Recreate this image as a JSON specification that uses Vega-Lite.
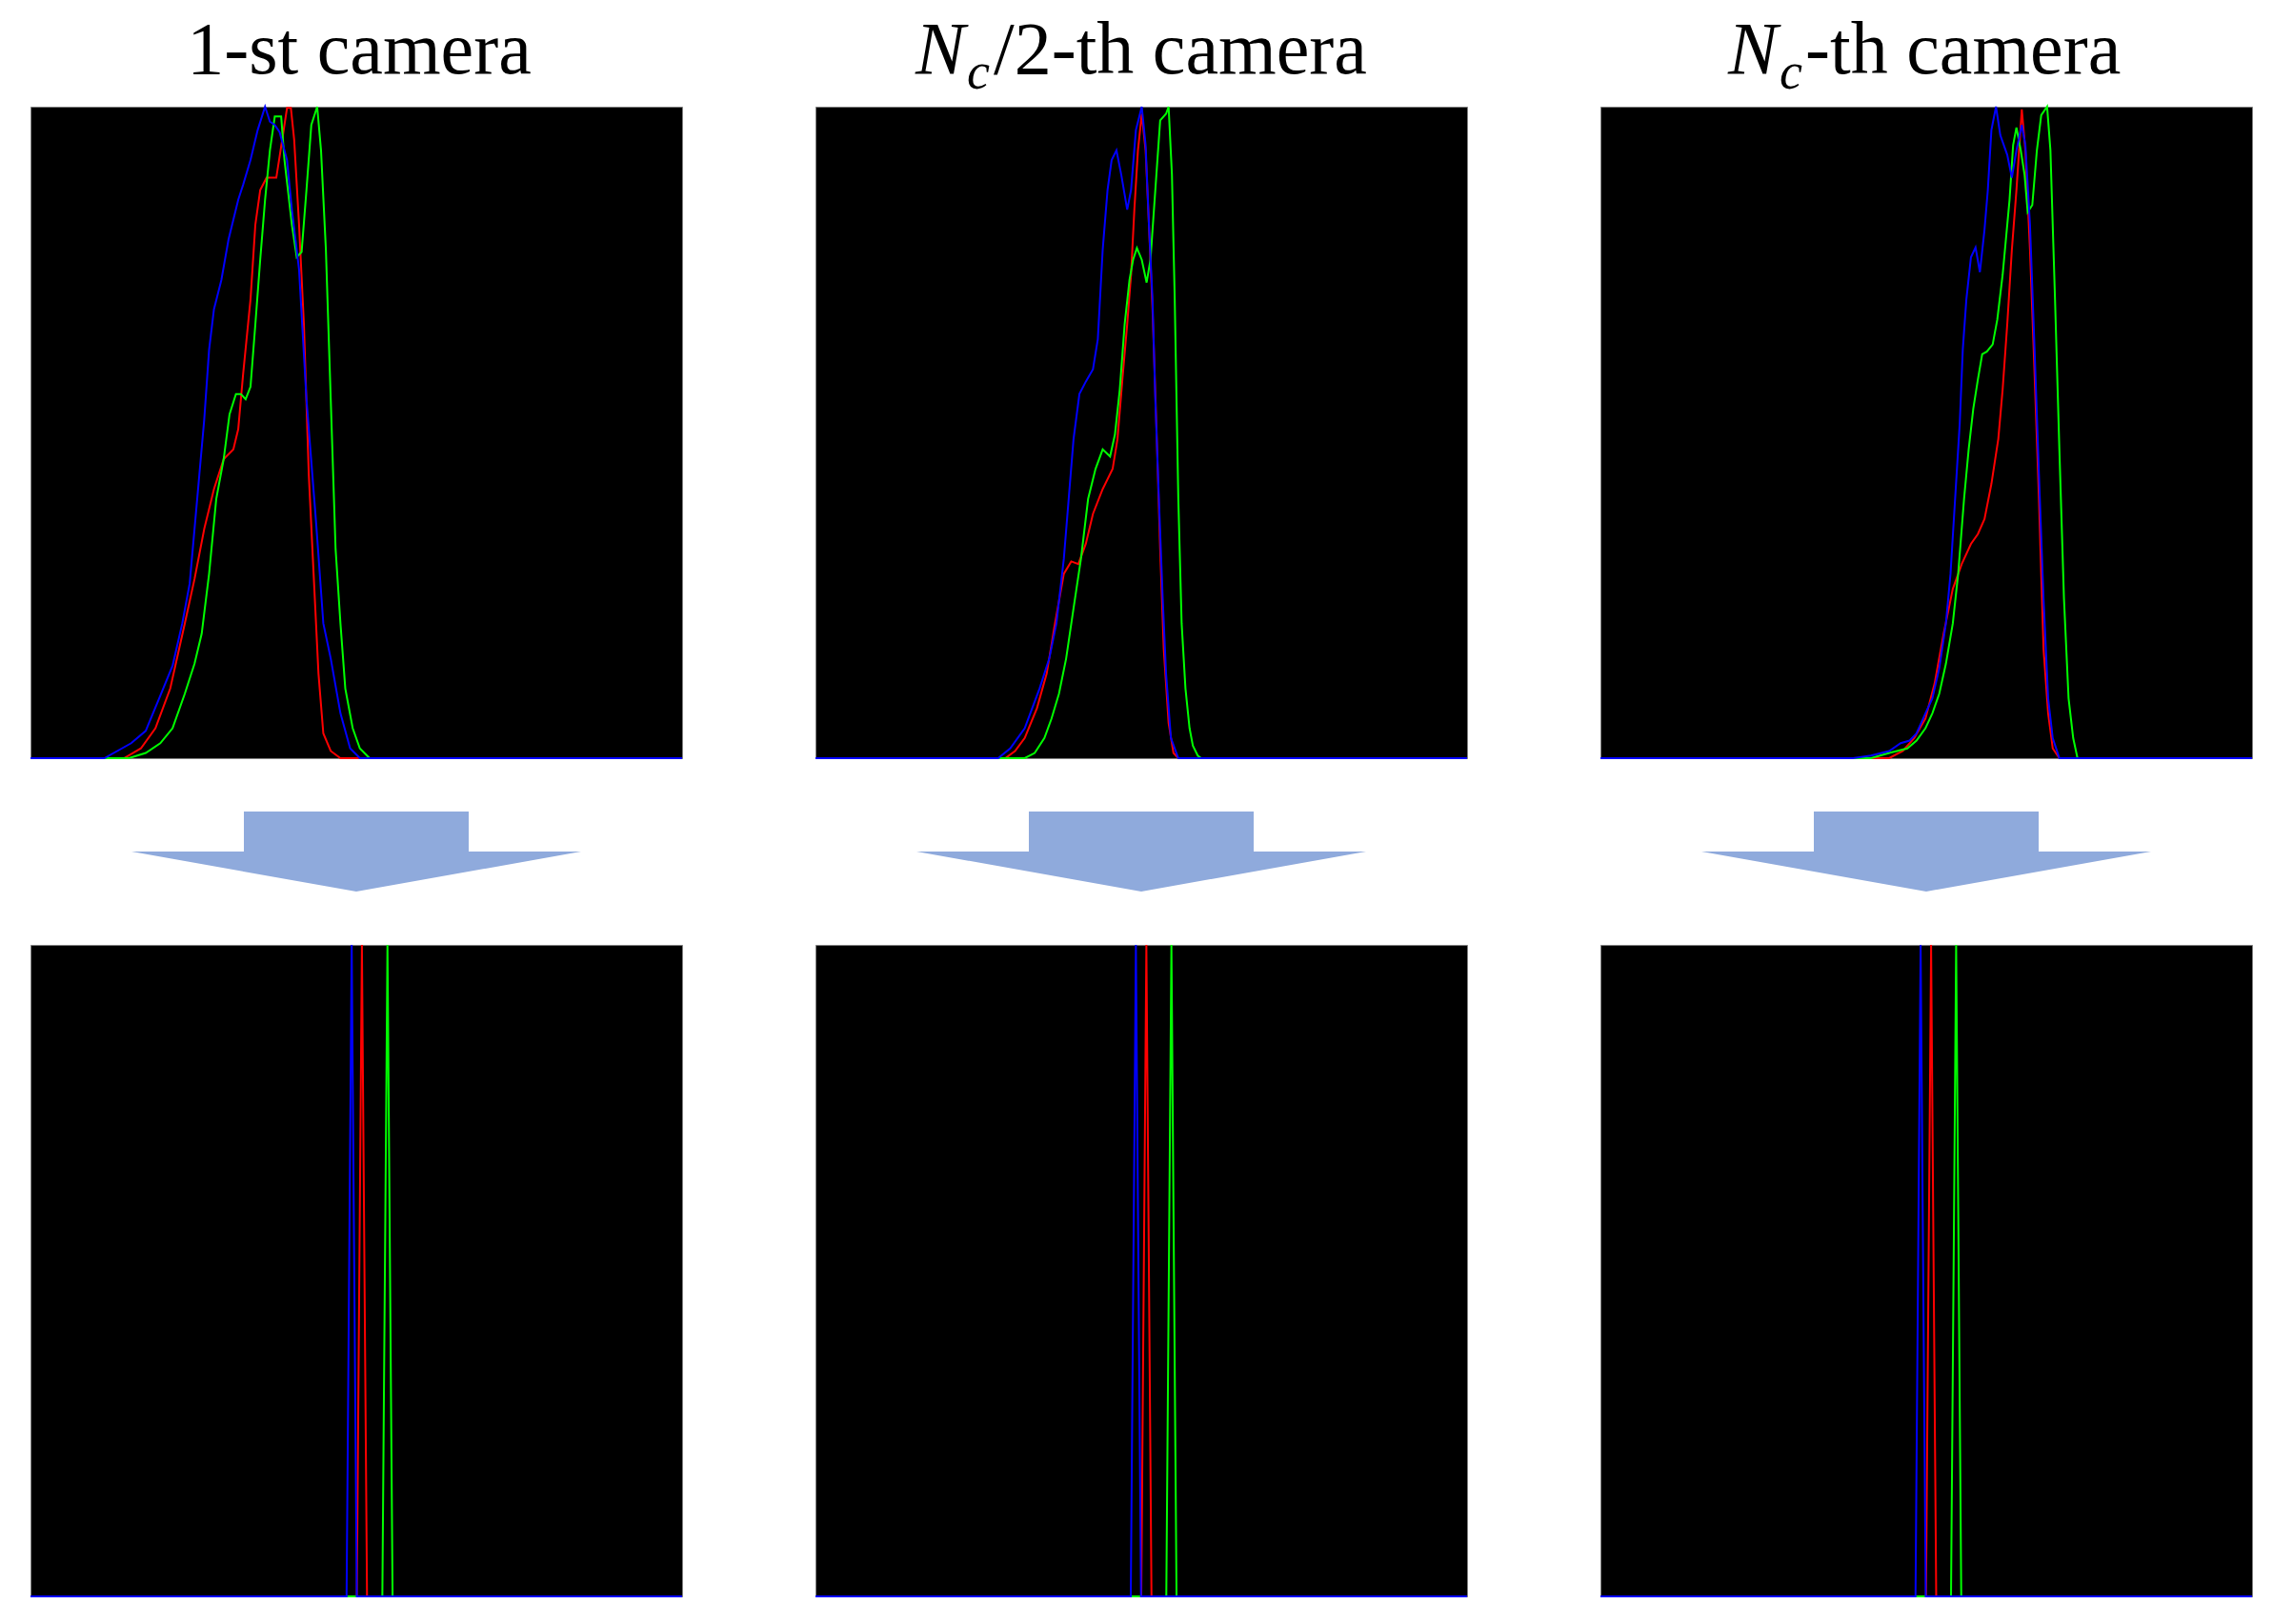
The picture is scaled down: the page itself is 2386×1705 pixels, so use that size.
{
"$schema": "https://vega.github.io/schema/vega-lite/v6.json",
"background": "white",
"padding": {"left": 27, "top": 14, "right": 24, "bottom": 10},
"bounds": "flush",
"columns": 3,
"spacing": {"row": 56, "column": 140},
"datasets": {
"hist": [
{"panel":1,"stage":"top","channel":"R","level":0,"value":0},{"panel":1,"stage":"top","channel":"R","level":36.6,"value":0},{"panel":1,"stage":"top","channel":"R","level":43.2,"value":0.015},{"panel":1,"stage":"top","channel":"R","level":48.9,"value":0.046},{"panel":1,"stage":"top","channel":"R","level":54.7,"value":0.107},{"panel":1,"stage":"top","channel":"R","level":60.4,"value":0.207},{"panel":1,"stage":"top","channel":"R","level":64.2,"value":0.275},{"panel":1,"stage":"top","channel":"R","level":68.0,"value":0.352},{"panel":1,"stage":"top","channel":"R","level":71.8,"value":0.413},{"panel":1,"stage":"top","channel":"R","level":75.6,"value":0.459},{"panel":1,"stage":"top","channel":"R","level":79.4,"value":0.474},{"panel":1,"stage":"top","channel":"R","level":81.3,"value":0.505},{"panel":1,"stage":"top","channel":"R","level":83.2,"value":0.589},{"panel":1,"stage":"top","channel":"R","level":86.1,"value":0.704},{"panel":1,"stage":"top","channel":"R","level":88.0,"value":0.819},{"panel":1,"stage":"top","channel":"R","level":89.9,"value":0.872},{"panel":1,"stage":"top","channel":"R","level":92.4,"value":0.891},{"panel":1,"stage":"top","channel":"R","level":96.2,"value":0.891},{"panel":1,"stage":"top","channel":"R","level":98.5,"value":0.949},{"panel":1,"stage":"top","channel":"R","level":100.4,"value":0.998},{"panel":1,"stage":"top","channel":"R","level":101.9,"value":0.998},{"panel":1,"stage":"top","channel":"R","level":103.2,"value":0.949},{"panel":1,"stage":"top","channel":"R","level":105.1,"value":0.819},{"panel":1,"stage":"top","channel":"R","level":107.0,"value":0.666},{"panel":1,"stage":"top","channel":"R","level":108.9,"value":0.436},{"panel":1,"stage":"top","channel":"R","level":110.8,"value":0.283},{"panel":1,"stage":"top","channel":"R","level":112.7,"value":0.130},{"panel":1,"stage":"top","channel":"R","level":114.6,"value":0.038},{"panel":1,"stage":"top","channel":"R","level":117.5,"value":0.011},{"panel":1,"stage":"top","channel":"R","level":121.3,"value":0},{"panel":1,"stage":"top","channel":"R","level":255,"value":0},
{"panel":1,"stage":"top","channel":"G","level":0,"value":0},{"panel":1,"stage":"top","channel":"G","level":38.5,"value":0},{"panel":1,"stage":"top","channel":"G","level":45.1,"value":0.008},{"panel":1,"stage":"top","channel":"G","level":50.8,"value":0.023},{"panel":1,"stage":"top","channel":"G","level":55.6,"value":0.046},{"panel":1,"stage":"top","channel":"G","level":60.4,"value":0.099},{"panel":1,"stage":"top","channel":"G","level":64.2,"value":0.145},{"panel":1,"stage":"top","channel":"G","level":67.0,"value":0.191},{"panel":1,"stage":"top","channel":"G","level":69.9,"value":0.283},{"panel":1,"stage":"top","channel":"G","level":72.7,"value":0.398},{"panel":1,"stage":"top","channel":"G","level":75.6,"value":0.459},{"panel":1,"stage":"top","channel":"G","level":77.9,"value":0.528},{"panel":1,"stage":"top","channel":"G","level":80.4,"value":0.559},{"panel":1,"stage":"top","channel":"G","level":82.3,"value":0.559},{"panel":1,"stage":"top","channel":"G","level":84.2,"value":0.551},{"panel":1,"stage":"top","channel":"G","level":86.1,"value":0.570},{"panel":1,"stage":"top","channel":"G","level":88.0,"value":0.666},{"panel":1,"stage":"top","channel":"G","level":89.9,"value":0.765},{"panel":1,"stage":"top","channel":"G","level":91.8,"value":0.857},{"panel":1,"stage":"top","channel":"G","level":93.7,"value":0.933},{"panel":1,"stage":"top","channel":"G","level":95.6,"value":0.985},{"panel":1,"stage":"top","channel":"G","level":98.1,"value":0.985},{"panel":1,"stage":"top","channel":"G","level":99.4,"value":0.918},{"panel":1,"stage":"top","channel":"G","level":102.3,"value":0.819},{"panel":1,"stage":"top","channel":"G","level":104.2,"value":0.769},{"panel":1,"stage":"top","channel":"G","level":106.1,"value":0.777},{"panel":1,"stage":"top","channel":"G","level":108.0,"value":0.872},{"panel":1,"stage":"top","channel":"G","level":109.9,"value":0.972},{"panel":1,"stage":"top","channel":"G","level":112.2,"value":1.0},{"panel":1,"stage":"top","channel":"G","level":113.7,"value":0.933},{"panel":1,"stage":"top","channel":"G","level":115.6,"value":0.781},{"panel":1,"stage":"top","channel":"G","level":117.5,"value":0.551},{"panel":1,"stage":"top","channel":"G","level":119.4,"value":0.321},{"panel":1,"stage":"top","channel":"G","level":121.3,"value":0.207},{"panel":1,"stage":"top","channel":"G","level":123.2,"value":0.107},{"panel":1,"stage":"top","channel":"G","level":126.1,"value":0.046},{"panel":1,"stage":"top","channel":"G","level":128.9,"value":0.015},{"panel":1,"stage":"top","channel":"G","level":132.7,"value":0},{"panel":1,"stage":"top","channel":"G","level":255,"value":0},
{"panel":1,"stage":"top","channel":"B","level":0,"value":0},{"panel":1,"stage":"top","channel":"B","level":28.9,"value":0},{"panel":1,"stage":"top","channel":"B","level":39.4,"value":0.023},{"panel":1,"stage":"top","channel":"B","level":45.1,"value":0.042},{"panel":1,"stage":"top","channel":"B","level":50.8,"value":0.096},{"panel":1,"stage":"top","channel":"B","level":55.6,"value":0.142},{"panel":1,"stage":"top","channel":"B","level":59.4,"value":0.207},{"panel":1,"stage":"top","channel":"B","level":62.3,"value":0.268},{"panel":1,"stage":"top","channel":"B","level":66.1,"value":0.436},{"panel":1,"stage":"top","channel":"B","level":68.0,"value":0.520},{"panel":1,"stage":"top","channel":"B","level":69.9,"value":0.627},{"panel":1,"stage":"top","channel":"B","level":71.8,"value":0.689},{"panel":1,"stage":"top","channel":"B","level":74.7,"value":0.734},{"panel":1,"stage":"top","channel":"B","level":77.5,"value":0.796},{"panel":1,"stage":"top","channel":"B","level":81.3,"value":0.857},{"panel":1,"stage":"top","channel":"B","level":83.2,"value":0.880},{"panel":1,"stage":"top","channel":"B","level":86.1,"value":0.918},{"panel":1,"stage":"top","channel":"B","level":88.9,"value":0.964},{"panel":1,"stage":"top","channel":"B","level":91.8,"value":1.0},{"panel":1,"stage":"top","channel":"B","level":93.7,"value":0.977},{"panel":1,"stage":"top","channel":"B","level":95.6,"value":0.972},{"panel":1,"stage":"top","channel":"B","level":97.5,"value":0.961},{"panel":1,"stage":"top","channel":"B","level":100.4,"value":0.918},{"panel":1,"stage":"top","channel":"B","level":102.3,"value":0.842},{"panel":1,"stage":"top","channel":"B","level":105.1,"value":0.750},{"panel":1,"stage":"top","channel":"B","level":108.0,"value":0.551},{"panel":1,"stage":"top","channel":"B","level":111.8,"value":0.360},{"panel":1,"stage":"top","channel":"B","level":114.6,"value":0.207},{"panel":1,"stage":"top","channel":"B","level":117.5,"value":0.153},{"panel":1,"stage":"top","channel":"B","level":121.3,"value":0.069},{"panel":1,"stage":"top","channel":"B","level":125.1,"value":0.015},{"panel":1,"stage":"top","channel":"B","level":128.9,"value":0},{"panel":1,"stage":"top","channel":"B","level":255,"value":0},
{"panel":2,"stage":"top","channel":"R","level":0,"value":0},{"panel":2,"stage":"top","channel":"R","level":74.3,"value":0},{"panel":2,"stage":"top","channel":"R","level":78.1,"value":0.011},{"panel":2,"stage":"top","channel":"R","level":81.9,"value":0.031},{"panel":2,"stage":"top","channel":"R","level":86.7,"value":0.077},{"panel":2,"stage":"top","channel":"R","level":90.5,"value":0.130},{"panel":2,"stage":"top","channel":"R","level":93.4,"value":0.199},{"panel":2,"stage":"top","channel":"R","level":97.2,"value":0.283},{"panel":2,"stage":"top","channel":"R","level":100.1,"value":0.302},{"panel":2,"stage":"top","channel":"R","level":102.9,"value":0.298},{"panel":2,"stage":"top","channel":"R","level":105.8,"value":0.329},{"panel":2,"stage":"top","channel":"R","level":108.6,"value":0.375},{"panel":2,"stage":"top","channel":"R","level":112.4,"value":0.413},{"panel":2,"stage":"top","channel":"R","level":116.3,"value":0.444},{"panel":2,"stage":"top","channel":"R","level":118.2,"value":0.490},{"panel":2,"stage":"top","channel":"R","level":120.1,"value":0.581},{"panel":2,"stage":"top","channel":"R","level":122.0,"value":0.666},{"panel":2,"stage":"top","channel":"R","level":123.5,"value":0.742},{"panel":2,"stage":"top","channel":"R","level":124.8,"value":0.842},{"panel":2,"stage":"top","channel":"R","level":126.2,"value":0.933},{"panel":2,"stage":"top","channel":"R","level":127.7,"value":0.989},{"panel":2,"stage":"top","channel":"R","level":129.2,"value":0.933},{"panel":2,"stage":"top","channel":"R","level":130.5,"value":0.819},{"panel":2,"stage":"top","channel":"R","level":131.9,"value":0.689},{"panel":2,"stage":"top","channel":"R","level":133.4,"value":0.513},{"panel":2,"stage":"top","channel":"R","level":134.9,"value":0.321},{"panel":2,"stage":"top","channel":"R","level":136.3,"value":0.168},{"panel":2,"stage":"top","channel":"R","level":138.2,"value":0.054},{"panel":2,"stage":"top","channel":"R","level":140.1,"value":0.008},{"panel":2,"stage":"top","channel":"R","level":142.0,"value":0},{"panel":2,"stage":"top","channel":"R","level":255,"value":0},
{"panel":2,"stage":"top","channel":"G","level":0,"value":0},{"panel":2,"stage":"top","channel":"G","level":81.9,"value":0},{"panel":2,"stage":"top","channel":"G","level":85.8,"value":0.008},{"panel":2,"stage":"top","channel":"G","level":89.6,"value":0.031},{"panel":2,"stage":"top","channel":"G","level":92.4,"value":0.061},{"panel":2,"stage":"top","channel":"G","level":95.3,"value":0.099},{"panel":2,"stage":"top","channel":"G","level":98.1,"value":0.153},{"panel":2,"stage":"top","channel":"G","level":101.0,"value":0.230},{"panel":2,"stage":"top","channel":"G","level":103.9,"value":0.306},{"panel":2,"stage":"top","channel":"G","level":106.7,"value":0.398},{"panel":2,"stage":"top","channel":"G","level":109.6,"value":0.444},{"panel":2,"stage":"top","channel":"G","level":112.4,"value":0.474},{"panel":2,"stage":"top","channel":"G","level":115.3,"value":0.463},{"panel":2,"stage":"top","channel":"G","level":117.2,"value":0.497},{"panel":2,"stage":"top","channel":"G","level":119.1,"value":0.566},{"panel":2,"stage":"top","channel":"G","level":121.0,"value":0.666},{"panel":2,"stage":"top","channel":"G","level":122.9,"value":0.734},{"panel":2,"stage":"top","channel":"G","level":124.3,"value":0.765},{"panel":2,"stage":"top","channel":"G","level":125.8,"value":0.783},{"panel":2,"stage":"top","channel":"G","level":127.7,"value":0.765},{"panel":2,"stage":"top","channel":"G","level":129.6,"value":0.730},{"panel":2,"stage":"top","channel":"G","level":131.1,"value":0.765},{"panel":2,"stage":"top","channel":"G","level":133.0,"value":0.872},{"panel":2,"stage":"top","channel":"G","level":134.9,"value":0.979},{"panel":2,"stage":"top","channel":"G","level":137.2,"value":0.989},{"panel":2,"stage":"top","channel":"G","level":138.2,"value":1.0},{"panel":2,"stage":"top","channel":"G","level":139.5,"value":0.896},{"panel":2,"stage":"top","channel":"G","level":140.6,"value":0.704},{"panel":2,"stage":"top","channel":"G","level":142.0,"value":0.398},{"panel":2,"stage":"top","channel":"G","level":143.3,"value":0.207},{"panel":2,"stage":"top","channel":"G","level":144.8,"value":0.107},{"panel":2,"stage":"top","channel":"G","level":146.4,"value":0.046},{"panel":2,"stage":"top","channel":"G","level":147.7,"value":0.019},{"panel":2,"stage":"top","channel":"G","level":149.6,"value":0.004},{"panel":2,"stage":"top","channel":"G","level":150.9,"value":0},{"panel":2,"stage":"top","channel":"G","level":255,"value":0},
{"panel":2,"stage":"top","channel":"B","level":0,"value":0},{"panel":2,"stage":"top","channel":"B","level":71.5,"value":0},{"panel":2,"stage":"top","channel":"B","level":76.2,"value":0.015},{"panel":2,"stage":"top","channel":"B","level":81.9,"value":0.046},{"panel":2,"stage":"top","channel":"B","level":87.7,"value":0.107},{"panel":2,"stage":"top","channel":"B","level":91.5,"value":0.153},{"panel":2,"stage":"top","channel":"B","level":94.3,"value":0.207},{"panel":2,"stage":"top","channel":"B","level":97.2,"value":0.306},{"panel":2,"stage":"top","channel":"B","level":99.1,"value":0.398},{"panel":2,"stage":"top","channel":"B","level":101.0,"value":0.490},{"panel":2,"stage":"top","channel":"B","level":103.3,"value":0.559},{"panel":2,"stage":"top","channel":"B","level":105.8,"value":0.578},{"panel":2,"stage":"top","channel":"B","level":108.6,"value":0.597},{"panel":2,"stage":"top","channel":"B","level":110.5,"value":0.643},{"panel":2,"stage":"top","channel":"B","level":112.4,"value":0.780},{"panel":2,"stage":"top","channel":"B","level":114.3,"value":0.872},{"panel":2,"stage":"top","channel":"B","level":115.9,"value":0.918},{"panel":2,"stage":"top","channel":"B","level":117.8,"value":0.933},{"panel":2,"stage":"top","channel":"B","level":119.7,"value":0.895},{"panel":2,"stage":"top","channel":"B","level":122.0,"value":0.842},{"panel":2,"stage":"top","channel":"B","level":123.5,"value":0.872},{"panel":2,"stage":"top","channel":"B","level":125.4,"value":0.964},{"panel":2,"stage":"top","channel":"B","level":127.7,"value":1.0},{"panel":2,"stage":"top","channel":"B","level":129.2,"value":0.941},{"panel":2,"stage":"top","channel":"B","level":130.5,"value":0.819},{"panel":2,"stage":"top","channel":"B","level":131.9,"value":0.704},{"panel":2,"stage":"top","channel":"B","level":133.0,"value":0.551},{"panel":2,"stage":"top","channel":"B","level":134.4,"value":0.398},{"panel":2,"stage":"top","channel":"B","level":135.9,"value":0.245},{"panel":2,"stage":"top","channel":"B","level":137.2,"value":0.130},{"panel":2,"stage":"top","channel":"B","level":139.1,"value":0.031},{"panel":2,"stage":"top","channel":"B","level":142.0,"value":0},{"panel":2,"stage":"top","channel":"B","level":255,"value":0},
{"panel":3,"stage":"top","channel":"R","level":0,"value":0},{"panel":3,"stage":"top","channel":"R","level":113.0,"value":0},{"panel":3,"stage":"top","channel":"R","level":118.3,"value":0.011},{"panel":3,"stage":"top","channel":"R","level":122.8,"value":0.031},{"panel":3,"stage":"top","channel":"R","level":127.2,"value":0.061},{"panel":3,"stage":"top","channel":"R","level":130.8,"value":0.115},{"panel":3,"stage":"top","channel":"R","level":134.3,"value":0.191},{"panel":3,"stage":"top","channel":"R","level":137.9,"value":0.260},{"panel":3,"stage":"top","channel":"R","level":141.4,"value":0.298},{"panel":3,"stage":"top","channel":"R","level":145.0,"value":0.329},{"panel":3,"stage":"top","channel":"R","level":147.7,"value":0.344},{"panel":3,"stage":"top","channel":"R","level":150.3,"value":0.367},{"panel":3,"stage":"top","channel":"R","level":153.0,"value":0.421},{"panel":3,"stage":"top","channel":"R","level":155.7,"value":0.490},{"panel":3,"stage":"top","channel":"R","level":157.4,"value":0.566},{"panel":3,"stage":"top","channel":"R","level":159.2,"value":0.666},{"panel":3,"stage":"top","channel":"R","level":161.0,"value":0.780},{"panel":3,"stage":"top","channel":"R","level":162.8,"value":0.872},{"panel":3,"stage":"top","channel":"R","level":164.9,"value":0.996},{"panel":3,"stage":"top","channel":"R","level":166.3,"value":0.933},{"panel":3,"stage":"top","channel":"R","level":168.1,"value":0.780},{"panel":3,"stage":"top","channel":"R","level":169.9,"value":0.589},{"panel":3,"stage":"top","channel":"R","level":171.6,"value":0.398},{"panel":3,"stage":"top","channel":"R","level":173.4,"value":0.168},{"panel":3,"stage":"top","channel":"R","level":175.2,"value":0.069},{"panel":3,"stage":"top","channel":"R","level":177.0,"value":0.015},{"panel":3,"stage":"top","channel":"R","level":179.6,"value":0},{"panel":3,"stage":"top","channel":"R","level":255,"value":0},
{"panel":3,"stage":"top","channel":"G","level":0,"value":0},{"panel":3,"stage":"top","channel":"G","level":105.9,"value":0},{"panel":3,"stage":"top","channel":"G","level":113.0,"value":0.008},{"panel":3,"stage":"top","channel":"G","level":120.1,"value":0.015},{"panel":3,"stage":"top","channel":"G","level":123.7,"value":0.027},{"panel":3,"stage":"top","channel":"G","level":127.2,"value":0.046},{"panel":3,"stage":"top","channel":"G","level":129.9,"value":0.069},{"panel":3,"stage":"top","channel":"G","level":132.6,"value":0.099},{"panel":3,"stage":"top","channel":"G","level":135.2,"value":0.145},{"panel":3,"stage":"top","channel":"G","level":137.9,"value":0.207},{"panel":3,"stage":"top","channel":"G","level":140.0,"value":0.283},{"panel":3,"stage":"top","channel":"G","level":142.3,"value":0.398},{"panel":3,"stage":"top","channel":"G","level":144.1,"value":0.474},{"panel":3,"stage":"top","channel":"G","level":145.9,"value":0.536},{"panel":3,"stage":"top","channel":"G","level":147.7,"value":0.581},{"panel":3,"stage":"top","channel":"G","level":149.4,"value":0.620},{"panel":3,"stage":"top","channel":"G","level":151.2,"value":0.624},{"panel":3,"stage":"top","channel":"G","level":153.5,"value":0.635},{"panel":3,"stage":"top","channel":"G","level":155.3,"value":0.673},{"panel":3,"stage":"top","channel":"G","level":157.4,"value":0.742},{"panel":3,"stage":"top","channel":"G","level":160.1,"value":0.857},{"panel":3,"stage":"top","channel":"G","level":161.5,"value":0.941},{"panel":3,"stage":"top","channel":"G","level":162.8,"value":0.968},{"panel":3,"stage":"top","channel":"G","level":164.5,"value":0.933},{"panel":3,"stage":"top","channel":"G","level":166.0,"value":0.895},{"panel":3,"stage":"top","channel":"G","level":167.2,"value":0.838},{"panel":3,"stage":"top","channel":"G","level":169.0,"value":0.849},{"panel":3,"stage":"top","channel":"G","level":170.8,"value":0.933},{"panel":3,"stage":"top","channel":"G","level":172.5,"value":0.987},{"panel":3,"stage":"top","channel":"G","level":174.8,"value":1.0},{"panel":3,"stage":"top","channel":"G","level":176.1,"value":0.933},{"panel":3,"stage":"top","channel":"G","level":177.9,"value":0.704},{"panel":3,"stage":"top","channel":"G","level":179.6,"value":0.474},{"panel":3,"stage":"top","channel":"G","level":181.4,"value":0.245},{"panel":3,"stage":"top","channel":"G","level":183.2,"value":0.092},{"panel":3,"stage":"top","channel":"G","level":185.0,"value":0.031},{"panel":3,"stage":"top","channel":"G","level":186.7,"value":0},{"panel":3,"stage":"top","channel":"G","level":255,"value":0},
{"panel":3,"stage":"top","channel":"B","level":0,"value":0},{"panel":3,"stage":"top","channel":"B","level":98.8,"value":0},{"panel":3,"stage":"top","channel":"B","level":105.9,"value":0.004},{"panel":3,"stage":"top","channel":"B","level":113.0,"value":0.011},{"panel":3,"stage":"top","channel":"B","level":117.5,"value":0.023},{"panel":3,"stage":"top","channel":"B","level":121.0,"value":0.027},{"panel":3,"stage":"top","channel":"B","level":123.7,"value":0.038},{"panel":3,"stage":"top","channel":"B","level":127.2,"value":0.069},{"panel":3,"stage":"top","channel":"B","level":129.9,"value":0.092},{"panel":3,"stage":"top","channel":"B","level":132.6,"value":0.138},{"panel":3,"stage":"top","channel":"B","level":135.2,"value":0.207},{"panel":3,"stage":"top","channel":"B","level":137.0,"value":0.283},{"panel":3,"stage":"top","channel":"B","level":138.8,"value":0.398},{"panel":3,"stage":"top","channel":"B","level":140.6,"value":0.513},{"panel":3,"stage":"top","channel":"B","level":141.8,"value":0.627},{"panel":3,"stage":"top","channel":"B","level":143.2,"value":0.704},{"panel":3,"stage":"top","channel":"B","level":145.0,"value":0.769},{"panel":3,"stage":"top","channel":"B","level":146.8,"value":0.784},{"panel":3,"stage":"top","channel":"B","level":148.5,"value":0.746},{"panel":3,"stage":"top","channel":"B","level":150.3,"value":0.811},{"panel":3,"stage":"top","channel":"B","level":151.6,"value":0.872},{"panel":3,"stage":"top","channel":"B","level":153.0,"value":0.964},{"panel":3,"stage":"top","channel":"B","level":154.8,"value":1.0},{"panel":3,"stage":"top","channel":"B","level":156.5,"value":0.956},{"panel":3,"stage":"top","channel":"B","level":159.2,"value":0.926},{"panel":3,"stage":"top","channel":"B","level":161.0,"value":0.891},{"panel":3,"stage":"top","channel":"B","level":162.8,"value":0.933},{"panel":3,"stage":"top","channel":"B","level":164.9,"value":0.972},{"panel":3,"stage":"top","channel":"B","level":166.3,"value":0.941},{"panel":3,"stage":"top","channel":"B","level":168.1,"value":0.819},{"panel":3,"stage":"top","channel":"B","level":169.9,"value":0.627},{"panel":3,"stage":"top","channel":"B","level":171.6,"value":0.436},{"panel":3,"stage":"top","channel":"B","level":173.4,"value":0.245},{"panel":3,"stage":"top","channel":"B","level":175.2,"value":0.092},{"panel":3,"stage":"top","channel":"B","level":177.0,"value":0.031},{"panel":3,"stage":"top","channel":"B","level":179.6,"value":0},{"panel":3,"stage":"top","channel":"B","level":255,"value":0},
{"panel":1,"stage":"bottom","channel":"R","level":0,"value":0},{"panel":1,"stage":"bottom","channel":"R","level":127.7,"value":0},{"panel":1,"stage":"bottom","channel":"R","level":129.7,"value":1},{"panel":1,"stage":"bottom","channel":"R","level":131.7,"value":0},{"panel":1,"stage":"bottom","channel":"R","level":255,"value":0},
{"panel":1,"stage":"bottom","channel":"G","level":0,"value":0},{"panel":1,"stage":"bottom","channel":"G","level":137.7,"value":0},{"panel":1,"stage":"bottom","channel":"G","level":139.7,"value":1},{"panel":1,"stage":"bottom","channel":"G","level":141.7,"value":0},{"panel":1,"stage":"bottom","channel":"G","level":255,"value":0},
{"panel":1,"stage":"bottom","channel":"B","level":0,"value":0},{"panel":1,"stage":"bottom","channel":"B","level":123.7,"value":0},{"panel":1,"stage":"bottom","channel":"B","level":125.7,"value":1},{"panel":1,"stage":"bottom","channel":"B","level":127.7,"value":0},{"panel":1,"stage":"bottom","channel":"B","level":255,"value":0},
{"panel":2,"stage":"bottom","channel":"R","level":0,"value":0},{"panel":2,"stage":"bottom","channel":"R","level":127.5,"value":0},{"panel":2,"stage":"bottom","channel":"R","level":129.5,"value":1},{"panel":2,"stage":"bottom","channel":"R","level":131.5,"value":0},{"panel":2,"stage":"bottom","channel":"R","level":255,"value":0},
{"panel":2,"stage":"bottom","channel":"G","level":0,"value":0},{"panel":2,"stage":"bottom","channel":"G","level":137.3,"value":0},{"panel":2,"stage":"bottom","channel":"G","level":139.3,"value":1},{"panel":2,"stage":"bottom","channel":"G","level":141.3,"value":0},{"panel":2,"stage":"bottom","channel":"G","level":255,"value":0},
{"panel":2,"stage":"bottom","channel":"B","level":0,"value":0},{"panel":2,"stage":"bottom","channel":"B","level":123.4,"value":0},{"panel":2,"stage":"bottom","channel":"B","level":125.4,"value":1},{"panel":2,"stage":"bottom","channel":"B","level":127.4,"value":0},{"panel":2,"stage":"bottom","channel":"B","level":255,"value":0},
{"panel":3,"stage":"bottom","channel":"R","level":0,"value":0},{"panel":3,"stage":"bottom","channel":"R","level":127.4,"value":0},{"panel":3,"stage":"bottom","channel":"R","level":129.4,"value":1},{"panel":3,"stage":"bottom","channel":"R","level":131.4,"value":0},{"panel":3,"stage":"bottom","channel":"R","level":255,"value":0},
{"panel":3,"stage":"bottom","channel":"G","level":0,"value":0},{"panel":3,"stage":"bottom","channel":"G","level":137.2,"value":0},{"panel":3,"stage":"bottom","channel":"G","level":139.2,"value":1},{"panel":3,"stage":"bottom","channel":"G","level":141.2,"value":0},{"panel":3,"stage":"bottom","channel":"G","level":255,"value":0},
{"panel":3,"stage":"bottom","channel":"B","level":0,"value":0},{"panel":3,"stage":"bottom","channel":"B","level":123.3,"value":0},{"panel":3,"stage":"bottom","channel":"B","level":125.3,"value":1},{"panel":3,"stage":"bottom","channel":"B","level":127.3,"value":0},{"panel":3,"stage":"bottom","channel":"B","level":255,"value":0}
]
},
"data": {"name": "hist"},
"concat": [
{"width": 684, "height": 684, "view": {"fill": "black", "stroke": "#808080", "strokeWidth": 1},
 "layer": [
  {"transform": [{"filter": "datum.panel == 1 && datum.stage == 'top'"}],
   "mark": {"type": "line", "strokeWidth": 2},
   "encoding": {
    "x": {"field": "level", "type": "quantitative", "scale": {"domain": [0, 255], "nice": false, "zero": false}, "axis": null},
    "y": {"field": "value", "type": "quantitative", "scale": {"domain": [0, 1], "nice": false}, "axis": null},
    "color": {"field": "channel", "type": "nominal", "scale": {"domain": ["R", "G", "B"], "range": ["#FF0000", "#00FF00", "#0000FF"]}, "legend": null}}},
  {"data": {"values": [{"label": "1-st camera"}]},
   "mark": {"type": "text", "font": "Liberation Serif", "fontSize": 78, "align": "center", "baseline": "alphabetic", "dx": 3, "dy": -35, "color": "black"},
   "encoding": {"x": {"datum": 127.5, "type": "quantitative"}, "y": {"datum": 1, "type": "quantitative"}, "text": {"field": "label"}}}
 ]},
{"width": 684, "height": 684, "view": {"fill": "black", "stroke": "#808080", "strokeWidth": 1},
 "layer": [
  {"transform": [{"filter": "datum.panel == 2 && datum.stage == 'top'"}],
   "mark": {"type": "line", "strokeWidth": 2},
   "encoding": {
    "x": {"field": "level", "type": "quantitative", "scale": {"domain": [0, 255], "nice": false, "zero": false}, "axis": null},
    "y": {"field": "value", "type": "quantitative", "scale": {"domain": [0, 1], "nice": false}, "axis": null},
    "color": {"field": "channel", "type": "nominal", "scale": {"domain": ["R", "G", "B"], "range": ["#FF0000", "#00FF00", "#0000FF"]}, "legend": null}}},
  {"data": {"values": [{"label": "N"}]},
   "mark": {"type": "text", "font": "Liberation Serif", "fontStyle": "italic", "fontSize": 78, "align": "left", "baseline": "alphabetic", "dx": -237, "dy": -35, "color": "black"},
   "encoding": {"x": {"datum": 127.5, "type": "quantitative"}, "y": {"datum": 1, "type": "quantitative"}, "text": {"field": "label"}}},
  {"data": {"values": [{"label": "c"}]},
   "mark": {"type": "text", "font": "Liberation Serif", "fontStyle": "italic", "fontSize": 54, "align": "left", "baseline": "alphabetic", "dx": -183, "dy": -19, "color": "black"},
   "encoding": {"x": {"datum": 127.5, "type": "quantitative"}, "y": {"datum": 1, "type": "quantitative"}, "text": {"field": "label"}}},
  {"data": {"values": [{"label": "/2-th camera"}]},
   "mark": {"type": "text", "font": "Liberation Serif", "fontSize": 78, "align": "left", "baseline": "alphabetic", "dx": -155, "dy": -35, "color": "black"},
   "encoding": {"x": {"datum": 127.5, "type": "quantitative"}, "y": {"datum": 1, "type": "quantitative"}, "text": {"field": "label"}}}
 ]},
{"width": 684, "height": 684, "view": {"fill": "black", "stroke": "#808080", "strokeWidth": 1},
 "layer": [
  {"transform": [{"filter": "datum.panel == 3 && datum.stage == 'top'"}],
   "mark": {"type": "line", "strokeWidth": 2},
   "encoding": {
    "x": {"field": "level", "type": "quantitative", "scale": {"domain": [0, 255], "nice": false, "zero": false}, "axis": null},
    "y": {"field": "value", "type": "quantitative", "scale": {"domain": [0, 1], "nice": false}, "axis": null},
    "color": {"field": "channel", "type": "nominal", "scale": {"domain": ["R", "G", "B"], "range": ["#FF0000", "#00FF00", "#0000FF"]}, "legend": null}}},
  {"data": {"values": [{"label": "N"}]},
   "mark": {"type": "text", "font": "Liberation Serif", "fontStyle": "italic", "fontSize": 78, "align": "left", "baseline": "alphabetic", "dx": -208, "dy": -35, "color": "black"},
   "encoding": {"x": {"datum": 127.5, "type": "quantitative"}, "y": {"datum": 1, "type": "quantitative"}, "text": {"field": "label"}}},
  {"data": {"values": [{"label": "c"}]},
   "mark": {"type": "text", "font": "Liberation Serif", "fontStyle": "italic", "fontSize": 54, "align": "left", "baseline": "alphabetic", "dx": -154, "dy": -19, "color": "black"},
   "encoding": {"x": {"datum": 127.5, "type": "quantitative"}, "y": {"datum": 1, "type": "quantitative"}, "text": {"field": "label"}}},
  {"data": {"values": [{"label": "-th camera"}]},
   "mark": {"type": "text", "font": "Liberation Serif", "fontSize": 78, "align": "left", "baseline": "alphabetic", "dx": -127, "dy": -35, "color": "black"},
   "encoding": {"x": {"datum": 127.5, "type": "quantitative"}, "y": {"datum": 1, "type": "quantitative"}, "text": {"field": "label"}}}
 ]},
{"width": 684, "height": 84, "view": {"fill": null, "stroke": null},
 "data": {"values": [{"step": "match 1"}]},
 "mark": {"type": "point", "shape": "M-0.5,-0.178L0.5,-0.178L0.5,0L1,0L0,0.178L-1,0L-0.5,0Z", "size": 222784, "filled": true, "color": "#8FAADC", "opacity": 1, "strokeWidth": 0},
 "encoding": {"x": {"datum": 127.5, "type": "quantitative", "scale": {"domain": [0, 255], "nice": false}, "axis": null}, "y": {"datum": 0.5, "type": "quantitative", "scale": {"domain": [0, 1], "nice": false}, "axis": null}}},
{"width": 684, "height": 84, "view": {"fill": null, "stroke": null},
 "data": {"values": [{"step": "match 2"}]},
 "mark": {"type": "point", "shape": "M-0.5,-0.178L0.5,-0.178L0.5,0L1,0L0,0.178L-1,0L-0.5,0Z", "size": 222784, "filled": true, "color": "#8FAADC", "opacity": 1, "strokeWidth": 0},
 "encoding": {"x": {"datum": 127.5, "type": "quantitative", "scale": {"domain": [0, 255], "nice": false}, "axis": null}, "y": {"datum": 0.5, "type": "quantitative", "scale": {"domain": [0, 1], "nice": false}, "axis": null}}},
{"width": 684, "height": 84, "view": {"fill": null, "stroke": null},
 "data": {"values": [{"step": "match 3"}]},
 "mark": {"type": "point", "shape": "M-0.5,-0.178L0.5,-0.178L0.5,0L1,0L0,0.178L-1,0L-0.5,0Z", "size": 222784, "filled": true, "color": "#8FAADC", "opacity": 1, "strokeWidth": 0},
 "encoding": {"x": {"datum": 127.5, "type": "quantitative", "scale": {"domain": [0, 255], "nice": false}, "axis": null}, "y": {"datum": 0.5, "type": "quantitative", "scale": {"domain": [0, 1], "nice": false}, "axis": null}}},
{"width": 684, "height": 684, "view": {"fill": "black", "stroke": "#808080", "strokeWidth": 1},
 "transform": [{"filter": "datum.panel == 1 && datum.stage == 'bottom'"}],
 "mark": {"type": "line", "strokeWidth": 2},
 "encoding": {
  "x": {"field": "level", "type": "quantitative", "scale": {"domain": [0, 255], "nice": false, "zero": false}, "axis": null},
  "y": {"field": "value", "type": "quantitative", "scale": {"domain": [0, 1], "nice": false}, "axis": null},
  "color": {"field": "channel", "type": "nominal", "scale": {"domain": ["R", "G", "B"], "range": ["#FF0000", "#00FF00", "#0000FF"]}, "legend": null}}},
{"width": 684, "height": 684, "view": {"fill": "black", "stroke": "#808080", "strokeWidth": 1},
 "transform": [{"filter": "datum.panel == 2 && datum.stage == 'bottom'"}],
 "mark": {"type": "line", "strokeWidth": 2},
 "encoding": {
  "x": {"field": "level", "type": "quantitative", "scale": {"domain": [0, 255], "nice": false, "zero": false}, "axis": null},
  "y": {"field": "value", "type": "quantitative", "scale": {"domain": [0, 1], "nice": false}, "axis": null},
  "color": {"field": "channel", "type": "nominal", "scale": {"domain": ["R", "G", "B"], "range": ["#FF0000", "#00FF00", "#0000FF"]}, "legend": null}}},
{"width": 684, "height": 684, "view": {"fill": "black", "stroke": "#808080", "strokeWidth": 1},
 "transform": [{"filter": "datum.panel == 3 && datum.stage == 'bottom'"}],
 "mark": {"type": "line", "strokeWidth": 2},
 "encoding": {
  "x": {"field": "level", "type": "quantitative", "scale": {"domain": [0, 255], "nice": false, "zero": false}, "axis": null},
  "y": {"field": "value", "type": "quantitative", "scale": {"domain": [0, 1], "nice": false}, "axis": null},
  "color": {"field": "channel", "type": "nominal", "scale": {"domain": ["R", "G", "B"], "range": ["#FF0000", "#00FF00", "#0000FF"]}, "legend": null}}}
]
}
